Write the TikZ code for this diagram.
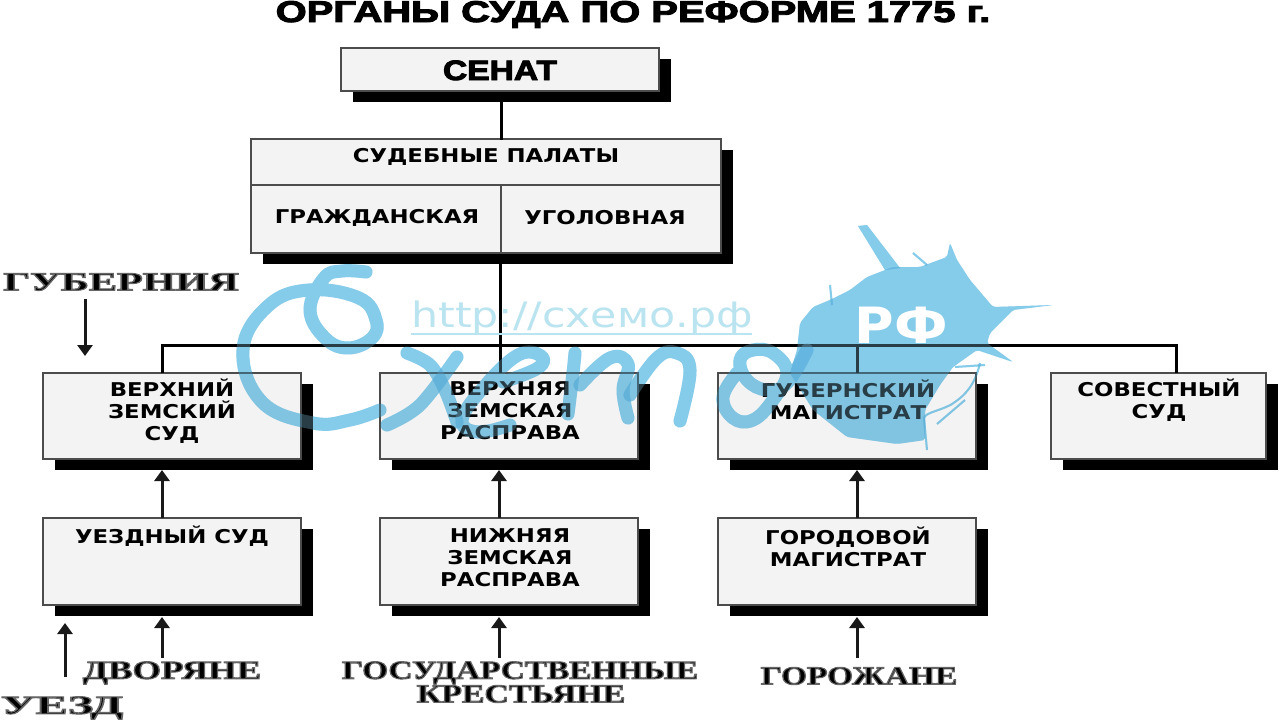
\documentclass[tikz,border=0pt]{standalone}
\usepackage{fontspec}
\setmainfont{DejaVu Sans}
\newfontfamily\serifbf{Liberation Serif}
\newfontfamily\arialbf{Liberation Sans}
\usetikzlibrary{arrows.meta,shadows,calc}
\definecolor{boxfill}{HTML}{F3F3F3}
\definecolor{wmblue}{HTML}{85CBEA}
\definecolor{urlblue}{HTML}{B9E4F0}
\tikzset{
 courtbox/.style={draw=black!70,line width=1.6pt,fill=boxfill,minimum width=#1,inner sep=0pt,
   drop shadow={shadow xshift=12pt,shadow yshift=-11pt,fill=black,opacity=1}},
 courtbox/.default=258pt,
 lbl/.style={font=\bfseries\fontsize{19pt}{22pt}\selectfont,align=center,anchor=center,inner sep=0pt,xscale=1.2,transform shape},
 conn/.style={draw=black,line width=3pt},
 arr/.style={draw=black!90,line width=3pt,-{Triangle[length=11pt,width=15pt]}},
 region/.style={font=\serifbf\bfseries\fontsize{26pt}{26pt}\selectfont,align=center,inner sep=0pt,xscale=#1,transform shape},
 wm/.style={draw=wmblue,line width=13pt,line cap=round,line join=round},
}
% glyphs filled black and outlined in soft grey, for the blurred look of the region labels
\newcommand{\softtext}[1]{\special{pdf:code 2 Tr 1 w 0.4 G}#1\special{pdf:code 0 Tr 0 G}}
% glyphs thickened with a black outline
\newcommand{\heavytext}[1]{\special{pdf:code 2 Tr 0.9 w 0 G}#1\special{pdf:code 0 Tr 0 G}}
\newcommand{\wmpaths}{%
\draw[wm] plot[smooth,tension=.7] coordinates {(366,272) (342,271) (324,278) (310,310) (325,338) (348,348) (372,338) (376,320) (359,298) (309,290) (268,306) (243,350) (262,402) (313,423) (350,420) (380,410)};
\draw[wm] plot[smooth,tension=.6] coordinates {(407,353) (430,365) (445,390) (457,422)};
\draw[wm] plot[smooth,tension=.6] coordinates {(387,425) (420,405) (457,357)};
\draw[wm] plot[smooth,tension=.7] coordinates {(503,382) (538,368) (541,356) (518,355) (483,388) (462,420) (478,432) (510,425)};
\draw[wm] plot[smooth,tension=.5] coordinates {(575,353) (573,373) (568,414)};
\draw[wm] plot[smooth,tension=.7] coordinates {(580,385) (610,358) (628,364) (623,390) (628,418)};
\draw[wm] plot[smooth,tension=.7] coordinates {(630,395) (657,358) (677,353) (690,370) (680,421)};
\draw[wm] plot[smooth,tension=.7] coordinates {(807,350) (787,383) (767,390) (747,380) (740,360) (753,350) (773,353) (787,373) (773,400) (753,420) (733,418) (723,397) (737,373)};
\fill[wmblue,rounded corners=2pt] (800,323) -- (813,307) -- (830,300) -- (850,290) -- (867,277) -- (893,267) -- (920,267) -- (947,257) -- (950,243) -- (957,260) -- (970,280) -- (993,307) -- (1053,305) -- (1013,310) -- (990,333) -- (987,343) -- (1013,362) -- (977,350) -- (953,367) -- (940,385) -- (925,410) -- (925,440) -- (897,444) -- (847,437) -- (813,410) -- (790,373) -- (797,350) -- cycle;
\fill[wmblue] (858,226) -- (867,225) -- (900,268) -- (885,270) -- cycle;
\draw[wmblue,line width=2pt] (913,253) -- (927,265) (830,285) -- (832,305);
\draw[wmblue,line width=2pt] (980,363) .. controls (975,385) and (965,395) .. (955,402) .. controls (945,410) and (925,412) .. (924,418) -- (927,450);
\draw[wmblue,line width=2pt] (937,424) -- (965,400) (955,367) -- (985,365);
}
\begin{document}
\begin{tikzpicture}[x=1pt,y=-1pt]
\useasboundingbox (0,0) rectangle (1280,720);
\fill[white] (0,0) rectangle (1280,720);

% title
\node[font=\arialbf\bfseries\fontsize{30pt}{32pt}\selectfont,inner sep=0pt,anchor=base,xscale=1.33,transform shape] (title) at (633,22) {\heavytext{ОРГАНЫ СУДА ПО РЕФОРМЕ 1775 г.}};

% boxes
\node[courtbox=318pt,minimum height=43pt] (senate) at (500,69.5) {};
\node[font=\arialbf\bfseries\fontsize{28pt}{30pt}\selectfont,inner sep=0pt,anchor=base,xscale=1.2,transform shape] (senatet) at (500,80) {\heavytext{СЕНАТ}};
\node[courtbox=470pt,minimum height=114pt] (chamber) at (486,196) {};
\coordinate (chL) at (251,185); \coordinate (chR) at (721,185);
\coordinate (chM) at (501,185); \coordinate (chB) at (501,253);
\draw[draw=black!70,line width=1.6pt] (chL) -- (chR) (chM) -- (chB);
\node[lbl] (chamt) at (486,157) {СУДЕБНЫЕ ПАЛАТЫ};
\node[lbl] (civ) at (377,218) {ГРАЖДАНСКАЯ};
\node[lbl] (crim) at (605,218) {УГОЛОВНАЯ};

\node[courtbox=258pt,minimum height=86pt] (b1) at (172,416) {};
\node[courtbox=258pt,minimum height=86pt] (b2) at (509,416) {};
\node[courtbox=258pt,minimum height=86pt] (b3) at (847,416) {};
\node[courtbox=215pt,minimum height=86pt] (b4) at (1158.5,416) {};
\node[courtbox=258pt,minimum height=87pt] (c1) at (172,561.5) {};
\node[courtbox=258pt,minimum height=87pt] (c2) at (509,561.5) {};
\node[courtbox=258pt,minimum height=87pt] (c3) at (847,561.5) {};

\node[lbl] (b1t) at (172,411) {ВЕРХНИЙ\\ЗЕМСКИЙ\\СУД};
\node[lbl] (b2t) at (510,411) {ВЕРХНЯЯ\\ЗЕМСКАЯ\\РАСПРАВА};
\node[lbl] (b3t) at (848,400) {ГУБЕРНСКИЙ\\МАГИСТРАТ};
\node[lbl] (b4t) at (1159,400) {СОВЕСТНЫЙ\\СУД};
\node[lbl] (c1t) at (172,536) {УЕЗДНЫЙ СУД};
\node[lbl] (c2t) at (510,558) {НИЖНЯЯ\\ЗЕМСКАЯ\\РАСПРАВА};
\node[lbl] (c3t) at (848,547) {ГОРОДОВОЙ\\МАГИСТРАТ};

% connectors
\coordinate (busL) at (162,345); \coordinate (busR) at (1176,345);
\coordinate (busM) at (500,345); \coordinate (bus3) at (857,345);
\coordinate (chOut) at (500,264);
\draw[conn] (senate.south) ++(1,0) -- ++(0,48);
\draw[conn] (chOut) -- (busM) -- (500,373);
\draw[conn,line cap=square] (162,373) -- (busL) -- (busR) -- (1176,373);
\draw[conn] (bus3) -- (857,373);

% arrows between rows
\coordinate (a1) at (162,518); \coordinate (a1e) at (162,470);
\coordinate (a2) at (499,518); \coordinate (a2e) at (499,470);
\coordinate (a3) at (857,518); \coordinate (a3e) at (857,470);
\draw[arr] (a1) -- (a1e);
\draw[arr] (a2) -- (a2e);
\draw[arr] (a3) -- (a3e);

% region labels
\node[region=1.62] (gub) at (121,282) {\softtext{ГУБЕРНИЯ}};
\node[region=1.41] (dvor) at (172,673) {\softtext{ДВОРЯНЕ}};
\node[region=1.28] (gos) at (520,673) {\softtext{ГОСУДАРСТВЕННЫЕ}};
\node[region=1.3] (kre) at (521,694) {\softtext{КРЕСТЬЯНЕ}};
\node[region=1.28] (gor) at (859,676) {\softtext{ГОРОЖАНЕ}};
\node[region=1.83] (uezd) at (62,708) {\softtext{УЕЗД}};

\coordinate (u1) at (65,677); \coordinate (u1e) at (65,623);
\coordinate (d1) at (162,658); \coordinate (d1e) at (162,617);
\coordinate (s1) at (499,658); \coordinate (s1e) at (499,617);
\coordinate (g1) at (857,658); \coordinate (g1e) at (857,617);
\coordinate (gv1) at (85,299); \coordinate (gv1e) at (85,356);
\draw[arr] (u1) -- (u1e);
\draw[arr] (d1) -- (d1e);
\draw[arr] (s1) -- (s1e);
\draw[arr] (g1) -- (g1e);
\draw[arr] (gv1) -- (gv1e);

% watermark
\begin{scope}[blend mode=multiply]
\wmpaths
\end{scope}
\begin{scope}[opacity=.3]
\wmpaths
\end{scope}
\node[font=\bfseries\fontsize{50pt}{52pt}\selectfont,text=white,inner sep=0pt,xscale=1.08,transform shape] (rf) at (901,325) {РФ};
\node[text=urlblue,font=\fontsize{35pt}{37pt}\selectfont,inner sep=0pt,xscale=1.22,transform shape] (url) at (582,318) {http://схемо.рф};
\coordinate (urlL) at (411,334); \coordinate (urlR) at (752,334);
\draw[urlblue,line width=1.5pt] (urlL) -- (urlR);
\end{tikzpicture}
\end{document}
